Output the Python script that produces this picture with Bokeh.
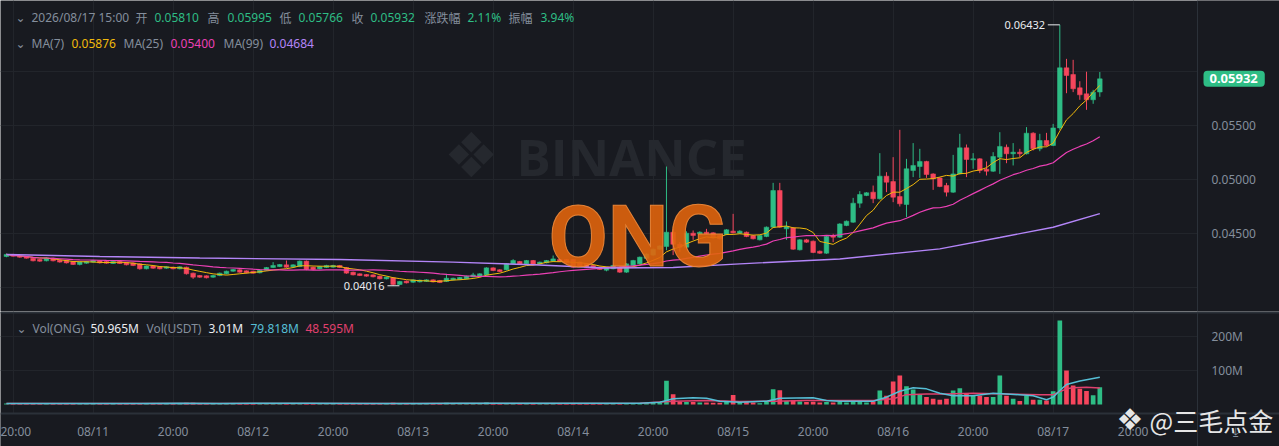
import pandas as pd
from bokeh.plotting import figure
from bokeh.layouts import column
from bokeh.models import (ColumnDataSource, Range1d, FixedTicker, Label,
                          BoxAnnotation, Span, PrintfTickFormatter)
from bokeh.embed import file_html
from bokeh.resources import INLINE

BG = "#181a20"; GRID = "#22252b"; SEP = "#2b3139"
UP = "#2ebd85"; DN = "#f6465d"; TXT = "#848e9c"; WHITE = "#eaecef"
C_MA7 = "#f0b90b"; C_MA25 = "#eb40b5"; C_MA99 = "#b385f8"
C_VMA1 = "#56bfd6"; C_VMA2 = "#e0406e"

# ---------------- data (2h candles, index 0..164) ----------------
candle_open = [
    .04287, .04306, .04290, .04283, .04272, .04259, .04247, .04272, .04253, .04250,
    .04240, .04213, .04225, .04235, .04250, .04240, .04222, .04240, .04231, .04228,
    .04219, .04173, .04198, .04191, .04179, .04188, .04173, .04188, .04133, .04111,
    .04108, .04096, .04111, .04127, .04151, .04164, .04154, .04151, .04136, .04160,
    .04185, .04194, .04210, .04191, .04194, .04244, .04188, .04173, .04185, .04188,
    .04204, .04185, .04142, .04127, .04120, .04117, .04105, .04080, .04090, .04028,
    .04059, .04049, .04052, .04056, .04071, .04065, .04056, .04071, .04074, .04080,
    .04099, .04105, .04117, .04182, .04164, .04164, .04219, .04241, .04219, .04250,
    .04219, .04229, .04244, .04259, .04259, .04259, .04235, .04219, .04204, .04188,
    .04160, .04173, .04190, .04142, .04204, .04219, .04270, .04300, .04355, .04380,
    .04512, .04400, .04373, .04503, .04497, .04512, .04506, .04481, .04491, .04522,
    .04503, .04512, .04481, .04441, .04472, .04559, .04898, .04543, .04552, .04349,
    .04441, .04429, .04336, .04318, .04478, .04466, .04574, .04605, .04781, .04852,
    .04883, .04821, .05031, .04981, .04843, .04769, .05083, .05120, .05167, .05052,
    .05015, .04944, .04883, .05052, .05293, .05182, .05191, .05096, .05077, .05207,
    .05299, .05238, .05253, .05238, .05429, .05284, .05361, .05315, .05478, .06034,
    .05972, .05849, .05793, .05738, .05810]
candle_high = [
    .04315, .04312, .04296, .04290, .04276, .04263, .04278, .04276, .04258, .04255,
    .04244, .04240, .04246, .04256, .04255, .04245, .04246, .04245, .04236, .04232,
    .04224, .04203, .04203, .04196, .04196, .04193, .04196, .04193, .04138, .04116,
    .04112, .04116, .04138, .04156, .04172, .04169, .04158, .04155, .04165, .04190,
    .04235, .04218, .04250, .04215, .04250, .04250, .04193, .04200, .04210, .04210,
    .04209, .04190, .04147, .04131, .04125, .04121, .04110, .04101, .04095, .04061,
    .04064, .04076, .04073, .04076, .04076, .04070, .04127, .04091, .04098, .04110,
    .04136, .04132, .04187, .04187, .04169, .04224, .04262, .04246, .04255, .04255,
    .04240, .04255, .04296, .04264, .04264, .04264, .04240, .04224, .04209, .04193,
    .04193, .04210, .04196, .04225, .04256, .04286, .04316, .04360, .04391, .05120,
    .04540, .04420, .04520, .04528, .04520, .04543, .04512, .04487, .04540, .04682,
    .04530, .04518, .04487, .04487, .04565, .04969, .04969, .04611, .04560, .04447,
    .04450, .04435, .04342, .04478, .04497, .04595, .04620, .04830, .04892, .04883,
    .04944, .05244, .05068, .05207, .05460, .05191, .05337, .05284, .05173, .05058,
    .05021, .04969, .05228, .05423, .05324, .05244, .05197, .05167, .05253, .05438,
    .05324, .05337, .05284, .05485, .05438, .05423, .05432, .05515, .06432, .06117,
    .06108, .05910, .05998, .05830, .05995]
candle_low = [
    .04280, .04285, .04276, .04268, .04242, .04238, .04242, .04242, .04230, .04222,
    .04208, .04205, .04220, .04230, .04222, .04220, .04218, .04218, .04205, .04198,
    .04165, .04168, .04173, .04168, .04174, .04168, .04168, .04120, .04080, .04090,
    .04084, .04090, .04105, .04122, .04146, .04137, .04130, .04128, .04131, .04155,
    .04180, .04189, .04183, .04186, .04189, .04160, .04160, .04168, .04180, .04183,
    .04180, .04127, .04112, .04106, .04100, .04094, .04075, .04075, .04016, .04023,
    .04038, .04044, .04047, .04051, .04047, .04041, .04051, .04066, .04069, .04075,
    .04094, .04100, .04112, .04152, .04143, .04159, .04214, .04214, .04214, .04205,
    .04214, .04224, .04239, .04236, .04224, .04183, .04192, .04183, .04177, .04162,
    .04150, .04168, .04136, .04136, .04199, .04214, .04265, .04295, .04350, .04345,
    .04300, .04330, .04360, .04441, .04490, .04492, .04455, .04445, .04485, .04500,
    .04497, .04466, .04445, .04436, .04466, .04553, .04553, .04441, .04349, .04343,
    .04414, .04318, .04312, .04312, .04420, .04460, .04568, .04599, .04738, .04846,
    .04781, .04815, .04883, .04790, .04750, .04651, .05022, .05015, .05015, .04904,
    .04929, .04843, .04877, .05046, .05022, .05099, .05059, .05037, .05071, .05052,
    .05151, .05130, .05207, .05232, .05269, .05262, .05306, .05309, .05460, .05799,
    .05809, .05738, .05645, .05701, .05766]
candle_close = [
    .04306, .04290, .04281, .04272, .04247, .04244, .04272, .04247, .04235, .04228,
    .04213, .04235, .04240, .04250, .04228, .04225, .04240, .04222, .04210, .04204,
    .04173, .04198, .04179, .04173, .04191, .04173, .04191, .04127, .04096, .04096,
    .04090, .04111, .04133, .04151, .04167, .04142, .04136, .04133, .04160, .04185,
    .04204, .04213, .04188, .04210, .04244, .04167, .04167, .04194, .04204, .04204,
    .04185, .04133, .04117, .04111, .04105, .04099, .04080, .04096, .04028, .04056,
    .04043, .04071, .04068, .04071, .04052, .04046, .04086, .04086, .04093, .04105,
    .04117, .04127, .04182, .04157, .04148, .04219, .04250, .04219, .04250, .04210,
    .04235, .04250, .04265, .04241, .04229, .04188, .04197, .04188, .04182, .04167,
    .04188, .04204, .04142, .04219, .04250, .04281, .04310, .04355, .04385, .04512,
    .04400, .04373, .04503, .04481, .04512, .04497, .04460, .04451, .04534, .04506,
    .04522, .04472, .04451, .04481, .04559, .04898, .04559, .04565, .04355, .04441,
    .04420, .04324, .04318, .04472, .04466, .04589, .04614, .04781, .04861, .04877,
    .04821, .05031, .04975, .04836, .04775, .05099, .05130, .05167, .05046, .05006,
    .04935, .04883, .05052, .05293, .05185, .05191, .05083, .05077, .05213, .05306,
    .05238, .05253, .05238, .05429, .05284, .05361, .05315, .05478, .06034, .05963,
    .05840, .05784, .05738, .05809, .05932]
volume_m = [
    3.2, 2.8, 2.5, 2.6, 3.4, 2.9, 2.7, 2.4, 2.6, 2.8,
    3.1, 2.5, 2.3, 2.2, 2.6, 2.4, 2.3, 2.5, 2.7, 2.9,
    4.2, 3.1, 2.6, 2.8, 2.2, 2.5, 2.4, 4.8, 5.5, 3.6,
    3.0, 2.8, 3.2, 3.5, 3.0, 2.7, 2.6, 2.5, 2.9, 3.3,
    3.8, 2.9, 3.6, 2.7, 3.9, 4.5, 3.1, 2.6, 2.4, 2.5,
    2.6, 4.1, 3.3, 2.8, 2.6, 2.5, 2.7, 2.4, 5.2, 3.4,
    2.8, 2.9, 2.5, 2.6, 2.7, 2.6, 4.9, 3.1, 2.8, 3.0,
    3.4, 3.2, 5.6, 4.0, 3.1, 4.4, 3.9, 3.2, 3.5, 3.6,
    2.9, 3.0, 4.6, 3.1, 3.0, 4.2, 3.5, 3.1, 2.9, 3.0,
    2.8, 2.9, 3.8, 4.1, 3.6, 3.9, 4.2, 5.0, 4.4, 70.0,
    30.0, 8.0, 7.0, 7.0, 6.0, 6.0, 5.0, 5.0, 7.0, 28.0,
    10.0, 7.0, 6.0, 4.0, 9.0, 45.0, 42.0, 10.0, 12.0, 9.0,
    7.0, 8.0, 6.0, 7.0, 6.0, 7.0, 6.0, 7.0, 8.0, 6.0,
    9.0, 41.0, 26.0, 68.0, 85.0, 54.0, 44.0, 31.0, 22.0, 17.0,
    14.0, 17.0, 41.0, 48.0, 31.0, 26.0, 26.0, 22.0, 22.0, 85.0,
    26.0, 17.0, 10.0, 26.0, 14.0, 14.0, 12.0, 39.0, 247.0, 100.0,
    56.0, 46.0, 40.0, 27.0, 50.965]

# MA(99) at sample candles
ma99_x = [0, 14, 29, 50, 67, 79, 90, 100, 110, 125, 140, 149, 157, 164]
ma99_y = [.04306, .04287, .04273, .04259, .04235, .04210, .04180, .04185,
          .04219, .04264, .04358, .04463, .04558, .04684]
# volume moving averages (millions)
vma1_x = [0, 20, 26, 32, 45, 55, 62, 68, 75, 85, 95, 98, 100, 103, 105, 107, 110,
          114, 116, 121, 123, 125, 130, 132, 134, 136, 138, 140, 142, 145, 148,
          150, 154, 156, 157, 158, 159, 161, 164]
vma1_y = [3.0, 3.0, 3.6, 3.3, 3.4, 3.1, 3.0, 3.6, 3.9, 3.6, 3.9, 6.9, 16.7, 19.6,
          18.6, 9.8, 6.9, 9.8, 18.6, 19.6, 11.8, 9.8, 9.8, 21.6, 39.0, 49.0, 46.0,
          33.0, 26.0, 26.0, 33.0, 31.0, 26.0, 14.0, 21.6, 41.0, 59.0, 69.0, 79.818]
vma2_x = [0, 30, 60, 90, 95, 100, 105, 110, 115, 120, 125, 130, 133, 135, 138,
          141, 145, 150, 155, 157, 159, 160, 162, 164]
vma2_y = [3.0, 3.0, 2.9, 3.2, 3.5, 9.8, 11.8, 8.8, 9.8, 11.8, 11.8, 11.8, 16.7,
          29.0, 31.0, 31.0, 33.0, 31.0, 29.0, 29.0, 46.0, 49.0, 51.0, 48.595]

# header values shown in the legend rows
hdr_time = "2026/08/17 15:00"
hdr_change = "2.11%"
hdr_amp = "3.94%"
ma7_last, ma25_last, ma99_last = 0.05876, 0.05400, 0.04684
vol_usdt_m = 3.01

price_ticks = [0.045, 0.05, 0.055]
price_grid = [0.04, 0.045, 0.05, 0.055, 0.06]
vol_ticks = [100, 200]
tick_idx = [1, 13, 25, 37, 49, 61, 73, 85, 97, 109, 121, 133, 145, 157, 169]
tick_text = ["20:00", "08/11", "20:00", "08/12", "20:00", "08/13", "20:00", "08/14",
             "20:00", "08/15", "20:00", "08/16", "20:00", "08/17", "20:00"]

# ---------------- sources ----------------
n = len(candle_close)
idx = list(range(n))
colors = [UP if c >= o else DN for o, c in zip(candle_open, candle_close)]
src = ColumnDataSource(dict(
    x=idx, h=candle_high, l=candle_low,
    top=[max(o, c) for o, c in zip(candle_open, candle_close)],
    bot=[min(o, c) for o, c in zip(candle_open, candle_close)],
    color=colors, vol=volume_m))
cs = pd.Series(candle_close)
ma7 = cs.rolling(7, min_periods=1).mean().tolist()
ma25 = cs.rolling(25, min_periods=1).mean().tolist()

W = 1279
AXIS_X = 178.65          # candle-index position of the price-scale separator
VOL_AXIS_Y = -26.47      # volume value where the time axis sits
xr = Range1d(-0.89, 190.95)

def style_axis(ax):
    ax.major_label_text_color = TXT
    ax.major_label_text_font = "Noto Sans"
    ax.major_label_text_font_size = "12px"
    ax.major_tick_line_color = None
    ax.minor_tick_line_color = None
    ax.axis_line_color = SEP

def lab(fig, x, y, text, color, size="12px", font="Noto Sans", **kw):
    fig.add_layout(Label(x=x, y=y, x_units="screen", y_units="screen", text=text,
                         text_color=color, text_font_size=size, text_font=font,
                         text_baseline="middle", **kw))

# ---------------- price pane ----------------
p = figure(width=W, height=311, x_range=xr, y_range=Range1d(0.037778, 0.066574),
           output_backend="svg", toolbar_location=None, x_axis_location=None,
           y_axis_location="right", min_border_left=0, min_border_right=0,
           min_border_top=0, min_border_bottom=0, background_fill_color=BG,
           border_fill_color=BG, outline_line_color=None)
p.yaxis.fixed_location = AXIS_X
p.yaxis.ticker = FixedTicker(ticks=price_ticks)
p.yaxis.formatter = PrintfTickFormatter(format="%.5f")
style_axis(p.yaxis[0])
p.yaxis.major_label_standoff = 8
p.ygrid.ticker = FixedTicker(ticks=price_grid)
p.xgrid.ticker = FixedTicker(ticks=tick_idx)
p.grid.grid_line_color = GRID
p.add_layout(BoxAnnotation(left=AXIS_X, fill_color=BG, fill_alpha=1, line_color=None,
                           level="underlay"))

# watermark under candles
p.add_layout(Label(x=443, y=156, x_units="screen", y_units="screen", text="❖",
                   text_font="DejaVu Sans", text_font_size="62px", text_color="#25282e",
                   text_baseline="middle", level="underlay"))
p.add_layout(Label(x=516, y=156, x_units="screen", y_units="screen", text="BINANCE",
                   text_font="Open Sans", text_font_style="bold", text_font_size="51px",
                   text_color="#25282e", text_baseline="middle", level="underlay"))

p.segment(x0="x", x1="x", y0="l", y1="h", color="color", line_width=1, source=src)
p.vbar(x="x", top="top", bottom="bot", width=0.7, fill_color="color",
       line_color="color", line_width=0.5, source=src)
p.line(idx, ma7, color=C_MA7, line_width=1)
p.line(idx, ma25, color=C_MA25, line_width=1.2)
p.line(ma99_x, ma99_y, color=C_MA99, line_width=1.4)

# extreme markers
imax = candle_high.index(max(candle_high))
imin = candle_low.index(min(candle_low))
p.segment(x0=[imax - 1.8], x1=[imax], y0=[max(candle_high)], y1=[max(candle_high)],
          color=WHITE, line_width=1)
p.add_layout(Label(x=imax - 2.2, y=max(candle_high), text="%.5f" % max(candle_high),
                   text_align="right", text_baseline="middle", text_font="Noto Sans",
                   text_font_size="11px", text_color=WHITE))
p.segment(x0=[imin - 0.85], x1=[imin + 0.95], y0=[min(candle_low)], y1=[min(candle_low)],
          color=WHITE, line_width=1)
p.add_layout(Label(x=imin - 1.3, y=min(candle_low), text="%.5f" % min(candle_low),
                   text_align="right", text_baseline="middle", text_font="Noto Sans",
                   text_font_size="11px", text_color=WHITE))

# big coin name overlay
p.add_layout(Label(x=548, y=75, x_units="screen", y_units="screen", text="ONG",
                   text_font="Roboto", text_font_style="bold", text_font_size="86px",
                   text_color="#e0640c", text_alpha=0.9, text_outline_color="#f08a3a",
                   text_baseline="middle", level="overlay"))

# last price tag
p.add_layout(Label(x=1203, y=candle_close[-1], x_units="screen", text="%.5f" % candle_close[-1],
                   text_font="Noto Sans", text_font_style="bold", text_font_size="13px",
                   text_color="#ffffff", text_baseline="middle", background_fill_color=UP,
                   padding=dict(left=6, right=7, top=3, bottom=4), border_radius=4))

row1 = [(15, "⌄", TXT, "DejaVu Sans"), (31, hdr_time, TXT, "Noto Sans"),
        (135, "开", TXT, "Noto Sans CJK SC"), (154, "%.5f" % candle_open[-1], UP, "Noto Sans"),
        (207, "高", TXT, "Noto Sans CJK SC"), (227, "%.5f" % candle_high[-1], UP, "Noto Sans"),
        (279, "低", TXT, "Noto Sans CJK SC"), (298, "%.5f" % candle_low[-1], UP, "Noto Sans"),
        (351, "收", TXT, "Noto Sans CJK SC"), (370, "%.5f" % candle_close[-1], UP, "Noto Sans"),
        (424, "涨跌幅", TXT, "Noto Sans CJK SC"), (467, hdr_change, UP, "Noto Sans"),
        (508, "振幅", TXT, "Noto Sans CJK SC"), (540, hdr_amp, UP, "Noto Sans")]
for x, t, c, f in row1:
    lab(p, x, 294, t, c, font=f)
row2 = [(15, "⌄", TXT, "DejaVu Sans"), (31, "MA(7)", TXT, "Noto Sans"),
        (71, "%.5f" % ma7_last, C_MA7, "Noto Sans"), (123, "MA(25)", TXT, "Noto Sans"),
        (170, "%.5f" % ma25_last, C_MA25, "Noto Sans"), (223, "MA(99)", TXT, "Noto Sans"),
        (269, "%.5f" % ma99_last, C_MA99, "Noto Sans")]
for x, t, c, f in row2:
    lab(p, x, 268, t, c, font=f)

# ---------------- volume pane ----------------
v = figure(width=W, height=135, x_range=xr, y_range=Range1d(-123.5, 273.5),
           output_backend="svg", toolbar_location=None, y_axis_location="right",
           min_border_left=0, min_border_right=0, min_border_top=0, min_border_bottom=0,
           background_fill_color=BG, border_fill_color=BG, outline_line_color=None)
v.yaxis.fixed_location = AXIS_X
v.yaxis.ticker = FixedTicker(ticks=vol_ticks)
v.yaxis.formatter = PrintfTickFormatter(format="%dM")
style_axis(v.yaxis[0])
v.yaxis.major_label_standoff = 8
v.xaxis.fixed_location = VOL_AXIS_Y
v.xaxis.ticker = FixedTicker(ticks=tick_idx)
v.xaxis.major_label_overrides = {t: s for t, s in zip(tick_idx, tick_text)}
style_axis(v.xaxis[0])
v.xaxis.axis_line_width = 2
v.xaxis.major_label_standoff = 3
v.ygrid.ticker = FixedTicker(ticks=vol_ticks)
v.xgrid.ticker = FixedTicker(ticks=tick_idx)
v.grid.grid_line_color = GRID
v.add_layout(BoxAnnotation(left=AXIS_X, fill_color=BG, fill_alpha=1, line_color=None,
                           level="underlay"))
v.add_layout(BoxAnnotation(top=VOL_AXIS_Y, fill_color=BG, fill_alpha=1, line_color=None,
                           level="underlay"))
v.add_layout(Span(location=270.6, dimension="width", line_color=SEP, line_width=2))

v.vbar(x="x", top="vol", bottom=0, width=0.7, fill_color="color", line_color=None,
       source=src)
v.line(vma2_x, vma2_y, color=C_VMA2, line_width=1.5)
v.line(vma1_x, vma1_y, color=C_VMA1, line_width=1.5)

row3 = [(16, "⌄", TXT, "DejaVu Sans"), (32, "Vol(ONG)", TXT, "Noto Sans"),
        (90, "%.3fM" % volume_m[-1], WHITE, "Noto Sans"), (146, "Vol(USDT)", TXT, "Noto Sans"),
        (208, "%.2fM" % vol_usdt_m, WHITE, "Noto Sans"),
        (250, "%.3fM" % vma1_y[-1], C_VMA1, "Noto Sans"),
        (305, "%.3fM" % vma2_y[-1], C_VMA2, "Noto Sans")]
for x, t, c, f in row3:
    lab(v, x, 118, t, c, font=f)

# corner watermark and small icons
lab(v, 1116, 27, "❖", "#e6e6e6", size="30px", font="DejaVu Sans")
lab(v, 1149, 27, "@三毛点金", "#e6e6e6", size="25px", font="Noto Sans CJK SC")
lab(v, 1232, 15, "⤓", TXT, size="12px", font="DejaVu Sans")

layout = column(p, v, spacing=0)
open("out.html", "w").write(file_html(layout, INLINE))
